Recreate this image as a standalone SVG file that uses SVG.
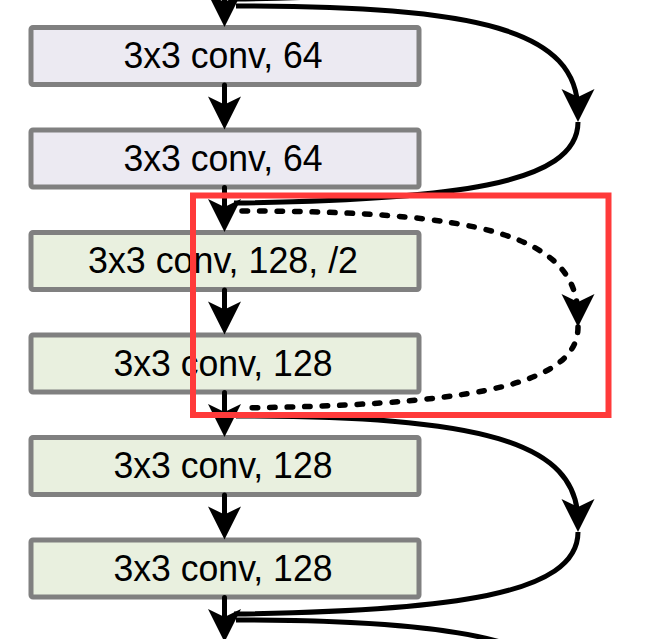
<svg xmlns="http://www.w3.org/2000/svg" width="647" height="639" viewBox="0 0 647 639">
<style>
.box{stroke:#808080;stroke-width:5}
.b64{fill:#ECEAF2}
.b128{fill:#E9F0DF}
.lbl{font-family:"Liberation Sans",Arial,sans-serif;font-size:37px;fill:#000;text-anchor:middle}
.ln{fill:none;stroke:#000;stroke-width:5}
.dot{fill:none;stroke:#000;stroke-width:5.5;stroke-dasharray:5.5 12;stroke-linecap:round}
.main{fill:none;stroke:#000;stroke-width:5;stroke-linecap:round}
</style>
<defs>
<marker id="ah" markerUnits="userSpaceOnUse" markerWidth="40" markerHeight="40" viewBox="-35 -20 40 40" refX="-10" refY="0" orient="auto" overflow="visible">
<path d="M0,0 L-33,-16.5 L-25,0 L-33,16.5 Z" fill="#000"/>
</marker>
</defs>
<rect width="647" height="639" fill="#fff"/>
<g id="node1"><rect class="box b64" x="31" y="27.5" width="388" height="57" rx="2"/><text class="lbl" x="223" y="68.3" textLength="199" lengthAdjust="spacingAndGlyphs">3x3 conv, 64</text></g>
<g id="node2"><rect class="box b64" x="31" y="130" width="388" height="57" rx="2"/><text class="lbl" x="223" y="170.8" textLength="199" lengthAdjust="spacingAndGlyphs">3x3 conv, 64</text></g>
<g id="node3"><rect class="box b128" x="31" y="232.5" width="388" height="57" rx="2"/><text class="lbl" x="223" y="273.3" textLength="270" lengthAdjust="spacingAndGlyphs">3x3 conv, 128, /2</text></g>
<g id="node4"><rect class="box b128" x="31" y="335" width="388" height="57" rx="2"/><text class="lbl" x="223" y="375.8" textLength="219" lengthAdjust="spacingAndGlyphs">3x3 conv, 128</text></g>
<g id="node5"><rect class="box b128" x="31" y="437.5" width="388" height="57" rx="2"/><text class="lbl" x="223" y="478.3" textLength="219" lengthAdjust="spacingAndGlyphs">3x3 conv, 128</text></g>
<g id="node6"><rect class="box b128" x="31" y="540" width="388" height="57" rx="2"/><text class="lbl" x="223" y="580.8" textLength="219" lengthAdjust="spacingAndGlyphs">3x3 conv, 128</text></g>
<g id="connectors">
<path class="ln" d="M578,-82 C578,-19 450,-4 234,-1"/>
<path class="ln" d="M236,6 C480,6 578,30 578,112" marker-end="url(#ah)"/>
<path class="ln" d="M578,122 C578,185 450,200 234,203"/>
<path class="dot" d="M242,211 C480,211 578,235 578,317" marker-end="url(#ah)"/>
<path class="dot" d="M578,327 C578,390 450,405 240,408"/>
<path class="ln" d="M236,416 C480,416 578,441 578,522" marker-end="url(#ah)"/>
<path class="ln" d="M578,532 C578,595 450,611 234,614"/>
<path class="ln" d="M236,620 C480,620 578,645 578,717" marker-end="url(#ah)"/>
<path class="main" d="M224.5,-40 L224.5,17" marker-end="url(#ah)"/>
<path class="main" d="M224.5,85 L224.5,119.5" marker-end="url(#ah)"/>
<path class="main" d="M224.5,187.5 L224.5,222" marker-end="url(#ah)"/>
<path class="main" d="M224.5,290 L224.5,324.5" marker-end="url(#ah)"/>
<path class="main" d="M224.5,392.5 L224.5,427" marker-end="url(#ah)"/>
<path class="main" d="M224.5,495 L224.5,529.5" marker-end="url(#ah)"/>
<path class="main" d="M224.5,597.5 L224.5,632" marker-end="url(#ah)"/>
</g>
<g id="highlight">
<rect x="193" y="195.5" width="415.5" height="219.5" fill="none" stroke="#FF3A3A" stroke-width="6"/>
</g>
</svg>
